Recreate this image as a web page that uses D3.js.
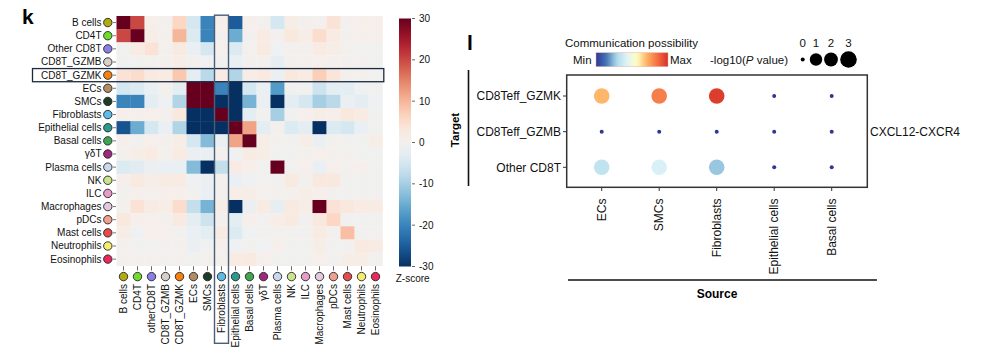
<!DOCTYPE html>
<html><head><meta charset="utf-8">
<script src="https://cdn.jsdelivr.net/npm/d3@7"></script>
<style>
body{margin:0;background:#fff;}
svg{display:block;font-family:"Liberation Sans",Arial,sans-serif;}
</style></head>
<body><svg id="c" width="1002" height="364"></svg>
<script>
// ---------- Panel k data ----------
const rowLabels = ["B cells","CD4T","Other CD8T","CD8T_GZMB","CD8T_GZMK","ECs","SMCs","Fibroblasts","Epithelial cells","Basal cells","γδT","Plasma cells","NK","ILC","Macrophages","pDCs","Mast cells","Neutrophils","Eosinophils"];
const colLabels = ["B cells","CD4T","otherCD8T","CD8T_GZMB","CD8T_GZMK","ECs","SMCs","Fibroblasts","Epithelial cells","Basal cells","γδT","Plasma cells","NK","ILC","Macrophages","pDCs","Mast cells","Neutrophils","Eosinophils"];
const cellColors = ["#b3ab0e","#6fdc2c","#8a7fe6","#d8d0c8","#f7800e","#b28c63","#1f3b28","#5cbbe9","#2b9a8e","#3fa553","#a1287f","#c8d8ef","#cbe48c","#e79bc9","#e2cadd","#f1a08f","#e54b4b","#f4ee70","#e8295b"];
const zscores = [
 [30,20,1,0.5,6,-5,-20,1,-25,1,0.5,-5,1.5,0,0.2,4,0,1,1],
 [20,30,1.5,0.5,10,-4,-20,0.5,-15,0,2,0,3,1.5,5,2,0.5,1,1],
 [-0.5,2,4,0.5,2.5,-2,-5,1,-4,0.5,2.5,-1,0.5,0.5,2,1.5,0.5,-0.5,-0.5],
 [-0.5,-0.5,0.5,0.3,1.5,0.2,-1,-0.5,-2,0,0.5,-2.5,0.5,0.5,1,0.3,0.5,0,-0.5],
 [4,5,2.5,2,8,-3,-8,2,-9,1.5,2.5,-1.5,3,2,7,3.5,0.5,0.5,-0.5],
 [-5,-4,-2,0.5,-3,30,30,-20,-30,-5,-2,-17,-0.5,-0.5,-6,-3,-3,-1,-0.5],
 [-20,-20,-3,-1,-9,30,30,-30,-30,-14,-1.5,-30,-3,-5,-10,-8,-2,-3,-1],
 [1,1,1,0.5,3,-30,-30,30,-30,-3,-0.5,-10,-0.5,1,1.5,1,3,2,-0.5],
 [-26,-15,-5,-2,-9,-30,-30,-30,30,12,-3,0.5,-4,-3,-30,-4,-5,-2,-0.5],
 [1,-0.5,1,0.5,1.5,-5,-13,-2,12,30,1.5,0.5,-0.5,1.5,-2,0.5,-0.5,-0.5,1.5],
 [0.5,1.5,2,0.5,2,-1.5,-2,0.5,-1,2,1.5,-0.5,-0.5,0.5,1,0.5,0.5,-0.5,-0.5],
 [-4,-3.5,-1.5,-2,-2,-13,-30,-7,2,1,-0.5,30,-0.5,1,-2,1,0.5,1,-0.5],
 [1,2.5,1.5,2,2,-1,-1.5,0.3,-2,-1,-0.3,-0.3,2.5,-0.3,3,3,-0.5,-0.5,-0.5],
 [-0.5,1,0.5,1,1,-0.5,-2,0.3,1.5,1.5,0.5,0.5,0.5,1.5,1,-0.3,-0.3,-0.3,-0.3],
 [0.5,4,2,1.5,5,-7,-14,1.5,-30,-1.5,2,-2.5,2.5,1.5,30,4,3,2,2],
 [3,1,1,0.5,2.5,-3,-6,0.5,-3,1,-0.3,1.5,2.5,-0.3,3,6,-0.3,-0.5,-0.5],
 [1.5,-1,1,1,-0.3,-2,-3,2,-4,-1,-0.3,0.3,-0.3,-0.3,2,-0.3,9,-0.3,0.3],
 [0.5,-0.5,-0.5,0.5,0.3,-1.5,-1,1,-1,-0.3,-1,1,-0.5,-0.5,1.5,-0.3,-0.3,2.5,2],
 [0.3,0.5,0.3,-0.3,0.3,-0.5,0.3,0.3,2,2.5,1,-0.5,-0.5,-0.3,1,-0.3,1.5,1.5,-0.3]
];
const zTicks = [30,20,10,0,-10,-20,-30];
const highlightRow = "CD8T_GZMK";
const highlightCol = "Fibroblasts";

// ---------- Panel l data ----------
const sources = ["ECs","SMCs","Fibroblasts","Epithelial cells","Basal cells"];
const targets = ["CD8Teff_GZMK","CD8Teff_GZMB","Other CD8T"];
const commProb = [
 [0.70,0.82,0.97,0,0],
 [0,0,0,0,0],
 [0.34,0.41,0.26,0,0]
];
const negLogP = [
 [3,3,3,0,0],
 [0,0,0,0,0],
 [3,3,3,0,0]
];
const pairName = "CXCL12-CXCR4";
const pLegend = [0,1,2,3];
const commColors = ["#313695","#4575b4","#abd9e9","#e0f3f8","#ffffbf","#fdae61","#f46d43","#d73027"];

const svg = d3.select("#c");

// ================= Panel k =================
const x = d3.scaleBand().domain(colLabels).range([116.5, 382.5]);
const y = d3.scaleBand().domain(rowLabels).range([16, 265.7]);
const zColor = d3.scaleSequential(t => d3.interpolateRdBu(1 - t)).domain([-30, 30]).clamp(true);

svg.append("text").attr("x", 22).attr("y", 24).attr("font-size", 21).attr("font-weight", "bold").text("k");

const cells = [];
zscores.forEach((row, i) => row.forEach((v, j) => cells.push({r: rowLabels[i], c: colLabels[j], v})));
svg.append("g").selectAll("rect").data(cells).join("rect")
  .attr("x", d => x(d.c)).attr("y", d => y(d.r))
  .attr("width", x.bandwidth() + 0.3).attr("height", y.bandwidth() + 0.3)
  .attr("fill", d => zColor(d.v));

// row labels
const rl = svg.append("g");
rowLabels.forEach((lab, i) => {
  const cy = y(lab) + y.bandwidth() / 2;
  rl.append("text").attr("x", 101.5).attr("y", cy).attr("dy", "0.35em")
    .attr("text-anchor", "end").attr("font-size", 10).attr("fill", "#111").text(lab);
  rl.append("circle").attr("cx", 107.8).attr("cy", cy).attr("r", 4.2)
    .attr("fill", cellColors[i]).attr("stroke", "#222").attr("stroke-width", 0.9);
  rl.append("line").attr("x1", 113).attr("x2", 116).attr("y1", cy).attr("y2", cy)
    .attr("stroke", "#555").attr("stroke-width", 0.8);
});
// column labels
const cl = svg.append("g");
colLabels.forEach((lab, j) => {
  const cx = x(lab) + x.bandwidth() / 2;
  cl.append("line").attr("x1", cx).attr("x2", cx).attr("y1", 266.2).attr("y2", 270.5)
    .attr("stroke", "#444").attr("stroke-width", 0.8);
  cl.append("circle").attr("cx", cx).attr("cy", 276.6).attr("r", 4.2)
    .attr("fill", cellColors[j]).attr("stroke", "#222").attr("stroke-width", 0.9);
  cl.append("text").attr("transform", `translate(${cx},284) rotate(-90)`)
    .attr("dy", "0.35em").attr("text-anchor", "end").attr("font-size", 10).attr("fill", "#111").text(lab);
});

// highlight boxes
svg.append("rect").attr("x", 32.5).attr("y", y(highlightRow))
  .attr("width", 383.8 - 32.5).attr("height", y.bandwidth())
  .attr("fill", "none").attr("stroke", "#1b2a41").attr("stroke-width", 1.3);
svg.append("rect").attr("x", x(highlightCol)).attr("y", 15.2)
  .attr("width", x.bandwidth()).attr("height", 343.3 - 15.2)
  .attr("fill", "none").attr("stroke", "#4b5e78").attr("stroke-width", 1.4);

// colorbar
const cbScale = d3.scaleLinear().domain([-30, 30]).range([266.5, 18.5]);
const defs = svg.append("defs");
const g1 = defs.append("linearGradient").attr("id", "zg").attr("x1", 0).attr("y1", 1).attr("x2", 0).attr("y2", 0);
d3.range(0, 1.0001, 0.05).forEach(t => g1.append("stop").attr("offset", t).attr("stop-color", zColor(-30 + 60 * t)));
svg.append("rect").attr("x", 399).attr("y", 18.5).attr("width", 12).attr("height", 248).attr("fill", "url(#zg)");
const cbAxis = svg.append("g");
zTicks.forEach(t => {
  cbAxis.append("line").attr("x1", 412).attr("x2", 415).attr("y1", cbScale(t)).attr("y2", cbScale(t)).attr("stroke", "#444").attr("stroke-width", 0.8);
  cbAxis.append("text").attr("x", 419).attr("y", cbScale(t)).attr("dy", "0.35em").attr("font-size", 10).attr("fill", "#111").text(t);
});
svg.append("text").attr("x", 412.7).attr("y", 281.5).attr("text-anchor", "middle").attr("font-size", 10).attr("fill", "#111").text("Z-score");

// ================= Panel l =================
svg.append("text").attr("x", 467).attr("y", 50).attr("font-size", 21).attr("font-weight", "bold").text("l");

const cInterp = d3.piecewise(d3.interpolateRgb, commColors);
const rScale = d3.scaleLinear().domain([0, 1, 2, 3]).range([2, 6.2, 6.9, 7.8]);

// legend
svg.append("text").attr("x", 565).attr("y", 47).attr("font-size", 11.5).attr("fill", "#111").text("Communication possibility");
svg.append("text").attr("x", 573).attr("y", 64).attr("font-size", 11.5).attr("fill", "#111").text("Min");
svg.append("text").attr("x", 670).attr("y", 64).attr("font-size", 11.5).attr("fill", "#111").text("Max");
const g2 = defs.append("linearGradient").attr("id", "cg").attr("x1", 0).attr("y1", 0).attr("x2", 1).attr("y2", 0);
d3.range(0, 1.0001, 0.05).forEach(t => g2.append("stop").attr("offset", t).attr("stop-color", cInterp(t)));
svg.append("rect").attr("x", 596).attr("y", 52.7).attr("width", 72).attr("height", 14).attr("fill", "url(#cg)")
  .attr("stroke", "#e8b0a8").attr("stroke-width", 0.5);
const pl = svg.append("text").attr("x", 710).attr("y", 64).attr("font-size", 11.5).attr("fill", "#111");
pl.append("tspan").text("-log10(");
pl.append("tspan").attr("font-style", "italic").text("P");
pl.append("tspan").text(" value)");
const legX = d3.scaleOrdinal().domain(pLegend).range([802.7, 816, 831, 848.5]);
pLegend.forEach(p => {
  svg.append("text").attr("x", legX(p)).attr("y", 47).attr("text-anchor", "middle").attr("font-size", 11.5).attr("fill", "#111").text(p);
  svg.append("circle").attr("cx", legX(p)).attr("cy", 59.5).attr("r", p === 3 ? 8.3 : rScale(p)).attr("fill", "#000");
});

// Target bracket
svg.append("line").attr("x1", 468.5).attr("x2", 468.5).attr("y1", 70).attr("y2", 186).attr("stroke", "#111").attr("stroke-width", 1.6);
svg.append("text").attr("transform", "translate(459,130) rotate(-90)").attr("text-anchor", "middle")
  .attr("font-size", 11.5).attr("font-weight", "bold").text("Target");

// dot plot
const px = d3.scalePoint().domain(sources).range([601.7, 831.7]);
const py = d3.scalePoint().domain(targets).range([96, 167.3]);
svg.append("rect").attr("x", 566.7).attr("y", 75).attr("width", 300.6).attr("height", 112.3)
  .attr("fill", "none").attr("stroke", "#333").attr("stroke-width", 1.5);
targets.forEach(t => {
  svg.append("line").attr("x1", 563).attr("x2", 566).attr("y1", py(t)).attr("y2", py(t)).attr("stroke", "#333").attr("stroke-width", 1);
  svg.append("text").attr("x", 561).attr("y", py(t)).attr("dy", "0.35em").attr("text-anchor", "end")
    .attr("font-size", 12).attr("fill", "#111").text(t);
});
sources.forEach(s => {
  svg.append("line").attr("x1", px(s)).attr("x2", px(s)).attr("y1", 188).attr("y2", 191).attr("stroke", "#333").attr("stroke-width", 1);
  svg.append("text").attr("transform", `translate(${px(s)},198.5) rotate(-90)`).attr("dy", "0.35em")
    .attr("text-anchor", "end").attr("font-size", 12).attr("fill", "#111").text(s);
});
const dots = [];
targets.forEach((t, i) => sources.forEach((s, j) => dots.push({t, s, c: commProb[i][j], p: negLogP[i][j]})));
svg.append("g").selectAll("circle").data(dots).join("circle")
  .attr("cx", d => px(d.s)).attr("cy", d => py(d.t))
  .attr("r", d => rScale(d.p)).attr("fill", d => cInterp(d.c));
svg.append("text").attr("x", 870).attr("y", py(targets[1])).attr("dy", "0.35em").attr("font-size", 12).attr("fill", "#111").text(pairName);

svg.append("line").attr("x1", 568).attr("x2", 877).attr("y1", 280).attr("y2", 280).attr("stroke", "#111").attr("stroke-width", 1.3);
svg.append("text").attr("x", 717).attr("y", 297.5).attr("text-anchor", "middle").attr("font-size", 12).attr("font-weight", "bold").text("Source");
</script>
</body></html>
